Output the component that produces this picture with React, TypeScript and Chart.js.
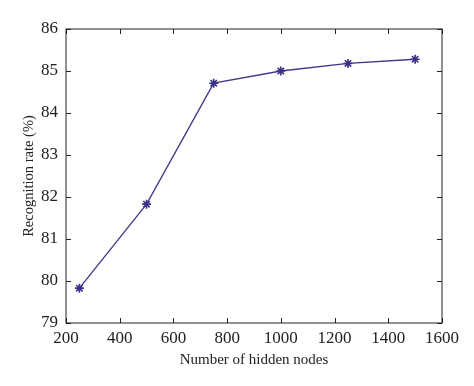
import React, { useEffect, useRef } from "react";
import { Chart, registerables } from "chart.js";

Chart.register(...registerables);

const hiddenNodes = [250, 500, 750, 1000, 1250, 1500];
const recognitionRate = [79.83, 81.83, 84.71, 85.0, 85.18, 85.28];
const xTicks = [200, 400, 600, 800, 1000, 1200, 1400, 1600];
const yTicks = [79, 80, 81, 82, 83, 84, 85, 86];

const FONT = "'Liberation Serif', 'DejaVu Serif', serif";

const boxPlugin = {
  id: "boxTicks",
  afterDraw(chart: any) {
    const { ctx, chartArea } = chart;
    const { left, right, top, bottom } = chartArea;
    const xs = chart.scales.x;
    const ys = chart.scales.y;
    ctx.save();
    ctx.strokeStyle = "#222";
    ctx.lineWidth = 1;
    ctx.strokeRect(left, top, right - left, bottom - top);
    const len = 5;
    ctx.beginPath();
    xTicks.forEach((v) => {
      const px = Math.round(xs.getPixelForValue(v)) + 0.5;
      ctx.moveTo(px, bottom);
      ctx.lineTo(px, bottom - len);
      ctx.moveTo(px, top);
      ctx.lineTo(px, top + len);
    });
    yTicks.forEach((v) => {
      const py = Math.round(ys.getPixelForValue(v)) + 0.5;
      ctx.moveTo(left, py);
      ctx.lineTo(left + len, py);
      ctx.moveTo(right, py);
      ctx.lineTo(right - len, py);
    });
    ctx.stroke();
    ctx.restore();
  },
};

export default function App() {
  const ref = useRef<HTMLCanvasElement>(null);
  useEffect(() => {
    if (!ref.current) return;
    const chart = new Chart(ref.current, {
      type: "line",
      data: {
        datasets: [
          {
            data: hiddenNodes.map((x, i) => ({ x, y: recognitionRate[i] })),
            borderColor: "#40368a",
            backgroundColor: "#40368a",
            borderWidth: 1.3,
            pointStyle: "star",
            pointRadius: 4.5,
            pointBorderWidth: 1.6,
            pointBorderColor: "#3a3086",
            tension: 0,
          },
        ],
      },
      options: {
        animation: false,
        responsive: true,
        maintainAspectRatio: false,
        layout: { padding: { left: 0, right: 32, top: 29, bottom: 8 } },
        plugins: { legend: { display: false }, tooltip: { enabled: false } },
        scales: {
          x: {
            type: "linear",
            min: 200,
            max: 1600,
            afterBuildTicks: (s: any) => {
              s.ticks = xTicks.map((v) => ({ value: v }));
            },
            afterFit: (s: any) => {
              s.height = 55;
            },
            grid: { display: false, drawTicks: false },
            border: { display: false },
            ticks: {
              color: "#222",
              font: { family: FONT, size: 17 },
              padding: 5,
              maxRotation: 0,
              callback: (v: any) => String(v),
            },
            title: {
              display: true,
              text: "Number of hidden nodes",
              color: "#222",
              font: { family: FONT, size: 15 },
              padding: { top: 6, bottom: 9 },
            },
          },
          y: {
            type: "linear",
            min: 79,
            max: 86,
            afterBuildTicks: (s: any) => {
              s.ticks = yTicks.map((v) => ({ value: v }));
            },
            afterFit: (s: any) => {
              s.width = 66;
            },
            grid: { display: false, drawTicks: false },
            border: { display: false },
            ticks: {
              color: "#222",
              font: { family: FONT, size: 17 },
              padding: 8,
              callback: (v: any) => String(v),
            },
            title: {
              display: true,
              text: "Recognition rate (%)",
              color: "#222",
              font: { family: FONT, size: 14.5 },
              padding: { top: 20, bottom: 0 },
            },
          },
        },
      },
      plugins: [boxPlugin],
    } as any);
    return () => chart.destroy();
  }, []);
  return (
    <div
      style={{
        position: "fixed",
        left: 0,
        top: 0,
        width: 474,
        height: 386,
        background: "#fff",
      }}
    >
      <canvas ref={ref} />
    </div>
  );
}
